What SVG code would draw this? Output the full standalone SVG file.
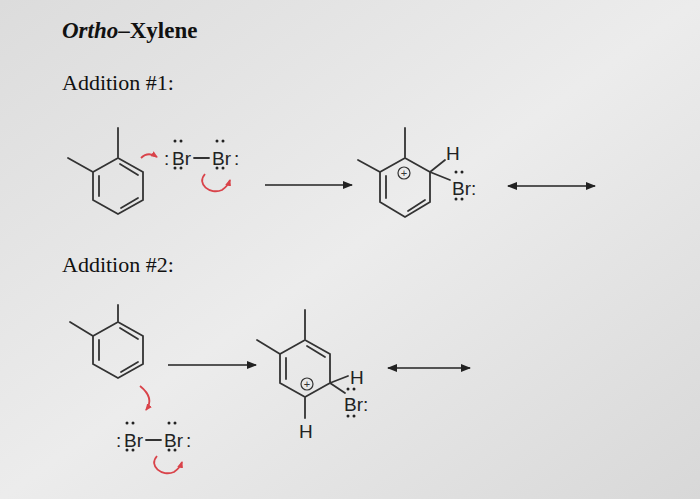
<svg xmlns="http://www.w3.org/2000/svg" width="700" height="499" viewBox="0 0 700 499">
<defs>
<linearGradient id="bg" x1="0" y1="0" x2="1" y2="1"><stop offset="0" stop-color="#dcdcdc"/><stop offset="0.5" stop-color="#ececec"/><stop offset="1" stop-color="#d8d8d8"/></linearGradient>
<marker id="ah" markerWidth="10" markerHeight="8" refX="9" refY="4" orient="auto" markerUnits="userSpaceOnUse"><path d="M0,0 L10,4 L0,8 z" fill="#222"/></marker>
<marker id="ahs" markerWidth="10" markerHeight="8" refX="1" refY="4" orient="auto" markerUnits="userSpaceOnUse"><path d="M10,0 L0,4 L10,8 z" fill="#222"/></marker>
<marker id="rh" markerWidth="7" markerHeight="6" refX="6" refY="3" orient="auto" markerUnits="userSpaceOnUse"><path d="M0,0 L7,3 L0,6 z" fill="#d9434a"/></marker>
</defs>
<style>
.b{stroke:#333;stroke-width:1.8;fill:none;stroke-linecap:round}
.t{font-family:"Liberation Serif",serif;fill:#111}
.a{font-family:"Liberation Sans",sans-serif;fill:#222;font-size:19px}
.ar{stroke:#222;stroke-width:1.5;fill:none}
.red{stroke:#d9434a;stroke-width:1.8;fill:none}
.dot{fill:#222}
</style>
<rect width="700" height="499" fill="url(#bg)"/>
<text class="t" x="62" y="38" font-size="23" font-weight="bold"><tspan font-style="italic">Ortho</tspan>–Xylene</text>
<text class="t" x="62" y="90" font-size="22">Addition #1:</text>
<text class="t" x="62" y="272" font-size="22">Addition #2:</text>

<g id="mol1">
<path class="b" d="M118,158 L143,172 L143,200 L118,214 L93,200 L93,172 Z M118,158 L118,128 M93,172 L68,158 M120,164 L138,175 M99,176 L99,196 M121,208 L138,198"/>
<text class="a" x="164" y="165">:</text><text class="a" x="172" y="165">Br</text>
<line class="b" x1="194" y1="158" x2="209" y2="158"/>
<text class="a" x="212" y="165">Br</text><text class="a" x="234" y="165">:</text>
<g class="dot"><circle cx="175" cy="141" r="1.5"/><circle cx="181" cy="141" r="1.5"/><circle cx="175" cy="168" r="1.5"/><circle cx="181" cy="168" r="1.5"/><circle cx="217" cy="141" r="1.5"/><circle cx="223" cy="141" r="1.5"/><circle cx="217" cy="168" r="1.5"/><circle cx="223" cy="168" r="1.5"/></g>
<path class="red" d="M141,158 Q148,151 157,157" marker-end="url(#rh)"/>
<path class="red" d="M205,174 C196,184 210,195 222,190 Q228,186 230,180" marker-end="url(#rh)"/>
</g>

<g id="mol2">
<path class="b" d="M405,158 L430,172 L430,202 L405,217 L380,202 L380,172 Z M405,158 L405,128 M380,172 L358,160 M386,176 L386,198 M408,211 L425,200 M430,172 L445,160 M430,172 L450,180"/>
<circle cx="404" cy="173" r="6" fill="none" stroke="#333" stroke-width="1.2"/>
<text x="404" y="177" font-family="Liberation Sans,sans-serif" font-size="11" text-anchor="middle" fill="#333">+</text>
<text class="a" x="446" y="160">H</text>
<text class="a" x="452" y="195">Br:</text>
<g class="dot"><circle cx="456" cy="172" r="1.5"/><circle cx="462" cy="172" r="1.5"/><circle cx="456" cy="199" r="1.5"/><circle cx="462" cy="199" r="1.5"/></g>
</g>

<g id="mol3">
<path class="b" d="M118,322 L143,336 L143,364 L118,378 L93,364 L93,336 Z M118,322 L118,305 M93,336 L70,322 M120,328 L138,339 M99,340 L99,360 M121,372 L138,362"/>
<path class="red" d="M140,386 Q155,398 146,410" marker-end="url(#rh)"/>
<text class="a" x="116" y="447">:</text><text class="a" x="124" y="447">Br</text>
<line class="b" x1="146" y1="440" x2="161" y2="440"/>
<text class="a" x="164" y="447">Br</text><text class="a" x="186" y="447">:</text>
<g class="dot"><circle cx="127" cy="423" r="1.5"/><circle cx="133" cy="423" r="1.5"/><circle cx="127" cy="450" r="1.5"/><circle cx="133" cy="450" r="1.5"/><circle cx="169" cy="423" r="1.5"/><circle cx="175" cy="423" r="1.5"/><circle cx="169" cy="450" r="1.5"/><circle cx="175" cy="450" r="1.5"/></g>
<path class="red" d="M157,456 C148,466 162,477 174,472 Q180,468 182,462" marker-end="url(#rh)"/>
</g>

<g id="mol4">
<path class="b" d="M305,340 L330,354 L330,383 L305,397 L280,383 L280,354 Z M305,340 L305,310 M280,354 L257,340 M307,346 L325,357 M286,358 L286,379 M305,397 L305,418 M330,383 L348,376 M330,383 L345,393"/>
<circle cx="307" cy="384" r="6" fill="none" stroke="#333" stroke-width="1.2"/>
<text x="307" y="388" font-family="Liberation Sans,sans-serif" font-size="11" text-anchor="middle" fill="#333">+</text>
<text class="a" x="350" y="384">H</text>
<text class="a" x="344" y="411">Br:</text>
<text class="a" x="299" y="438">H</text>
<g class="dot"><circle cx="348" cy="389" r="1.5"/><circle cx="354" cy="389" r="1.5"/><circle cx="348" cy="416" r="1.5"/><circle cx="354" cy="416" r="1.5"/></g>
</g>

<g id="connectors">
<line class="ar" x1="265" y1="185" x2="352" y2="185" marker-end="url(#ah)"/>
<line class="ar" x1="508" y1="186" x2="595" y2="186" marker-start="url(#ahs)" marker-end="url(#ah)"/>
<line class="ar" x1="168" y1="365" x2="256" y2="365" marker-end="url(#ah)"/>
<line class="ar" x1="388" y1="368" x2="470" y2="368" marker-start="url(#ahs)" marker-end="url(#ah)"/>
</g>
</svg>
